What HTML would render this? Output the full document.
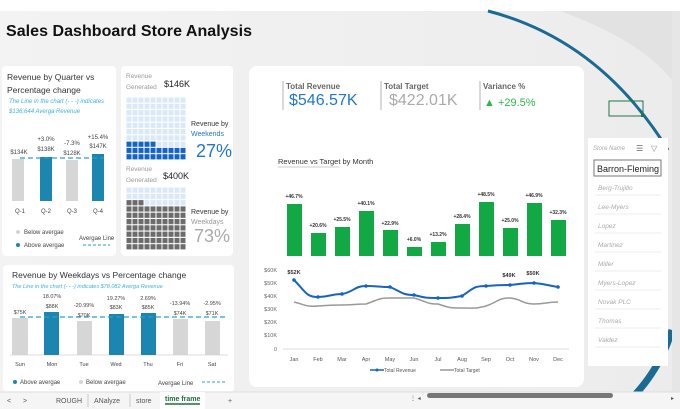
<!DOCTYPE html>
<html><head><meta charset="utf-8"><style>
*{margin:0;padding:0;box-sizing:border-box}
body{width:680px;height:409px;overflow:hidden;font-family:"Liberation Sans",sans-serif;background:#fff;position:relative}
svg{position:absolute;left:0;top:0}
</style></head><body>
<svg width="680" height="409" viewBox="0 0 680 409" font-family="Liberation Sans, sans-serif">
<defs>
<linearGradient id="bg" x1="0" y1="0" x2="1" y2="0"><stop offset="0" stop-color="#f3f3f3"/><stop offset="1" stop-color="#ececec"/></linearGradient>
<pattern id="pb" width="6" height="6.3" patternUnits="userSpaceOnUse" x="126" y="97"><rect x="0.5" y="0.5" width="5" height="5.2" fill="#1565c0"/></pattern>
<pattern id="pd" width="6" height="6.3" patternUnits="userSpaceOnUse" x="126" y="187"><rect x="0.5" y="0.5" width="5" height="5.2" fill="#6b6b6b"/></pattern>
<pattern id="pl1" width="6" height="6.3" patternUnits="userSpaceOnUse" x="126" y="97"><rect x="0.5" y="0.5" width="5" height="5.2" fill="#dbe8f7"/></pattern>
<pattern id="pl2" width="6" height="6.3" patternUnits="userSpaceOnUse" x="126" y="187"><rect x="0.5" y="0.5" width="5" height="5.2" fill="#dbe8f7"/></pattern>
</defs>
<rect x="0" y="11" width="672" height="381" fill="url(#bg)"/>
<path d="M560 11 Q640 40 672 80 L672 11Z" fill="#e2e2e2"/>
<path d="M488 11 Q600 40 668 150" stroke="#1a6a93" stroke-width="3" fill="none"/>
<path d="M672 330 Q660 370 630 400" stroke="#1a6a93" stroke-width="7" fill="none"/>
<rect x="672" y="11" width="8" height="381" fill="#e6e6e6"/>
<text x="6" y="36" font-size="16" font-weight="bold" fill="#111" textLength="246">Sales Dashboard Store Analysis</text>

<!-- card1 -->
<rect x="2" y="66" width="114" height="190" rx="4" fill="#fff"/>
<text x="7" y="80" font-size="8.5" fill="#333">Revenue by Quarter vs</text>
<text x="7" y="93" font-size="8.5" fill="#333">Percentage change</text>
<text x="9" y="103" font-size="6" fill="#3fb0e0" font-style="italic">The Line in the chart (- - -) indicates</text>
<text x="9" y="113" font-size="6" fill="#3fb0e0" font-style="italic">$136,644 Averga Revenue</text>
<rect x="12" y="159" width="12" height="42" fill="#d6d6d6"/>
<rect x="40" y="157" width="12" height="44" fill="#1b87b0"/>
<rect x="66" y="160" width="12" height="41" fill="#d6d6d6"/>
<rect x="92" y="154" width="12" height="47" fill="#1b87b0"/>
<line x1="20" y1="158" x2="104" y2="158" stroke="#2a9fd0" stroke-width="1.3" stroke-dasharray="5,3"/>
<g font-size="6" fill="#444" text-anchor="middle">
<text x="19" y="154">$134K</text>
<text x="46" y="141">+3.0%</text><text x="46" y="151">$138K</text>
<text x="72" y="145">-7.3%</text><text x="72" y="155">$128K</text>
<text x="98" y="139">+15.4%</text><text x="98" y="148">$147K</text>
<text x="20" y="213">Q-1</text><text x="46" y="213">Q-2</text><text x="72" y="213">Q-3</text><text x="98" y="213">Q-4</text>
</g>
<circle cx="18" cy="232" r="2" fill="#d6d6d6"/><text x="24" y="234" font-size="6" fill="#444">Below avergae</text>
<circle cx="18" cy="245" r="2" fill="#1b87b0"/><text x="24" y="247" font-size="6" fill="#444">Above avergae</text>
<text x="79" y="240" font-size="6" fill="#444">Avergae Line</text>
<line x1="83" y1="245" x2="110" y2="245" stroke="#2a9fd0" stroke-dasharray="3,2"/>

<!-- card2 -->
<rect x="121" y="66" width="112" height="190" rx="4" fill="#fff"/>
<text x="126" y="78" font-size="6.5" fill="#999">Revenue</text>
<text x="126" y="89" font-size="6.5" fill="#999">Generated</text>
<text x="164" y="87" font-size="9" fill="#222">$146K</text>
<rect x="126" y="97" width="60" height="44" fill="url(#pl1)"/>
<rect x="126" y="141" width="30" height="7" fill="url(#pb)"/>
<rect x="156" y="141" width="30" height="7" fill="url(#pl1)"/>
<rect x="126" y="147.4" width="60" height="13" fill="url(#pb)"/>
<text x="191" y="126" font-size="7" fill="#333">Revenue by</text>
<text x="191" y="136" font-size="7" fill="#1f77d0">Weekends</text>
<text x="196" y="157" font-size="18" fill="#1f77d0">27%</text>
<text x="126" y="171" font-size="6.5" fill="#999">Revenue</text>
<text x="126" y="182" font-size="6.5" fill="#999">Generated</text>
<text x="163" y="179" font-size="9" fill="#222">$400K</text>
<rect x="126" y="187" width="60" height="12.6" fill="url(#pl2)"/>
<rect x="126" y="199.6" width="18" height="6.3" fill="url(#pd)"/>
<rect x="144" y="199.6" width="42" height="6.3" fill="url(#pl2)"/>
<rect x="126" y="205.9" width="60" height="44.1" fill="url(#pd)"/>
<text x="191" y="214" font-size="7" fill="#333">Revenue by</text>
<text x="191" y="224" font-size="7" fill="#999">Weekdays</text>
<text x="194" y="242" font-size="18" fill="#aaa">73%</text>

<!-- card3 -->
<rect x="3" y="265" width="231" height="127" rx="4" fill="#fff"/>
<text x="12" y="278" font-size="8.5" fill="#333">Revenue by Weekdays vs Percentage change</text>
<text x="12" y="288" font-size="5.5" fill="#3fb0e0" font-style="italic">The Line in the chart (- - -) indicates $78,082 Averga Revenue</text>
<line x1="10" y1="355" x2="228" y2="355" stroke="#ddd"/>
<rect x="12" y="318" width="16" height="37" fill="#d6d6d6"/>
<rect x="44" y="312" width="15" height="43" fill="#1b87b0"/>
<rect x="77" y="321" width="15" height="34" fill="#d6d6d6"/>
<rect x="109" y="314" width="15" height="41" fill="#1b87b0"/>
<rect x="141" y="313" width="15" height="42" fill="#1b87b0"/>
<rect x="173" y="319" width="15" height="36" fill="#d6d6d6"/>
<rect x="205" y="321" width="15" height="34" fill="#d6d6d6"/>
<line x1="20" y1="317" x2="226" y2="317" stroke="#2a9fd0" stroke-width="1.3" stroke-dasharray="5,3"/>
<g font-size="5.5" fill="#444" text-anchor="middle">
<text x="20" y="314">$75K</text>
<text x="52" y="298">18.07%</text><text x="52" y="308">$88K</text>
<text x="84" y="307">-20.99%</text><text x="84" y="317">$70K</text>
<text x="116" y="300">19.27%</text><text x="116" y="309">$83K</text>
<text x="148" y="300">2.69%</text><text x="148" y="309">$85K</text>
<text x="180" y="305">-13.94%</text><text x="180" y="315">$74K</text>
<text x="212" y="305">-2.95%</text><text x="212" y="315">$71K</text>
<text x="20" y="366">Sun</text><text x="52" y="366">Mon</text><text x="84" y="366">Tue</text><text x="116" y="366">Wed</text><text x="148" y="366">Thu</text><text x="180" y="366">Fri</text><text x="212" y="366">Sat</text>
</g>
<circle cx="15" cy="382" r="2" fill="#1b87b0"/><text x="20" y="384" font-size="6" fill="#444">Above avergae</text>
<circle cx="81" cy="382" r="2" fill="#d6d6d6"/><text x="86" y="384" font-size="6" fill="#444">Below avergae</text>
<text x="158" y="385" font-size="6" fill="#444">Avergae Line</text>
<line x1="202" y1="382" x2="226" y2="382" stroke="#2a9fd0" stroke-dasharray="3,2"/>

<!-- big card -->
<rect x="249" y="66" width="335" height="321" rx="8" fill="#fff"/>
<line x1="283" y1="81" x2="283" y2="110" stroke="#ccc" stroke-width="1.5"/>
<line x1="381" y1="81" x2="381" y2="110" stroke="#ccc" stroke-width="1.5"/>
<line x1="480" y1="81" x2="480" y2="110" stroke="#ccc" stroke-width="1.5"/>
<text x="286" y="89" font-size="8" font-weight="bold" fill="#666">Total Revenue</text>
<text x="289" y="105" font-size="16" fill="#1f77d0">$546.57K</text>
<text x="384" y="89" font-size="8" font-weight="bold" fill="#666">Total Target</text>
<text x="389" y="105" font-size="16" fill="#aaa">$422.01K</text>
<text x="483" y="89" font-size="8" font-weight="bold" fill="#666">Variance %</text>
<text x="484" y="106" font-size="11" fill="#2fb64f">▲ +29.5%</text>
<text x="278" y="164" font-size="7.5" fill="#333">Revenue vs Target by Month</text>
<line x1="278" y1="167" x2="339" y2="167" stroke="#ccc"/>
<g fill="#12a945">
<rect x="287" y="204" width="15" height="52"/><rect x="311" y="233" width="15" height="23"/>
<rect x="335" y="227" width="15" height="29"/><rect x="359" y="211" width="15" height="45"/>
<rect x="383" y="230" width="15" height="26"/><rect x="407" y="247" width="15" height="9"/>
<rect x="431" y="242" width="15" height="14"/><rect x="455" y="224" width="15" height="32"/>
<rect x="479" y="202" width="15" height="54"/><rect x="503" y="228" width="15" height="28"/>
<rect x="527" y="203" width="15" height="53"/><rect x="551" y="220" width="15" height="36"/>
</g>
<g font-size="5" font-weight="bold" fill="#333" text-anchor="middle">
<text x="294" y="198">+46.7%</text><text x="318" y="227">+20.6%</text><text x="342" y="221">+25.5%</text>
<text x="366" y="205">+40.1%</text><text x="390" y="225">+22.9%</text><text x="414" y="241">+6.0%</text>
<text x="438" y="236">+13.2%</text><text x="462" y="218">+28.4%</text><text x="486" y="196">+48.5%</text>
<text x="510" y="222">+25.0%</text><text x="534" y="197">+46.9%</text><text x="558" y="214">+32.3%</text>
</g>
<g font-size="5.5" fill="#666" text-anchor="end">
<text x="277" y="272">$60K</text><text x="277" y="285">$50K</text><text x="277" y="298">$40K</text>
<text x="277" y="311">$30K</text><text x="277" y="324">$20K</text><text x="277" y="337">$10K</text><text x="277" y="351">0</text>
</g>
<line x1="283" y1="349" x2="569" y2="349" stroke="#ddd"/>
<path d="M294 302 C306 305,306 307,318 306 C330 305,330 305,342 305 C354 305,354 304,366 304 C378 300,378 298,390 298 C402 298,402 298,414 298 C426 301,426 304,438 304 C450 308,450 308,462 308 C474 308,474 309,486 306 C498 302,498 298,510 298 C522 299,522 304,534 304 C546 304,546 302,558 302" stroke="#999" stroke-width="1.5" fill="none"/>
<path d="M294 280 C306 292,306 297,318 297 C330 297,330 294,342 294 C354 292,354 286,366 286 C378 286,378 287,390 287 C402 292,402 295,414 295 C426 298,426 298,438 298 C450 298,450 298,462 296 C474 288,474 286,486 286 C498 285,498 285,510 285 C522 284,522 283,534 283 C546 284,546 285,558 287" stroke="#1565c0" stroke-width="2" fill="none"/>
<g fill="#1565c0"><circle cx="294" cy="280" r="1.8"/><circle cx="318" cy="297" r="1.8"/><circle cx="342" cy="294" r="1.8"/><circle cx="366" cy="286" r="1.8"/><circle cx="390" cy="287" r="1.8"/><circle cx="414" cy="295" r="1.8"/><circle cx="438" cy="298" r="1.8"/><circle cx="462" cy="296" r="1.8"/><circle cx="486" cy="286" r="1.8"/><circle cx="510" cy="285" r="1.8"/><circle cx="534" cy="283" r="1.8"/><circle cx="558" cy="287" r="1.8"/></g>
<g font-size="5.5" font-weight="bold" fill="#333" text-anchor="middle"><text x="294" y="274">$52K</text><text x="509" y="277">$49K</text><text x="533" y="275">$50K</text></g>
<g font-size="5.5" fill="#555" text-anchor="middle">
<text x="294" y="361">Jan</text><text x="318" y="361">Feb</text><text x="342" y="361">Mar</text><text x="366" y="361">Apr</text><text x="390" y="361">May</text><text x="414" y="361">Jun</text><text x="438" y="361">Jul</text><text x="462" y="361">Aug</text><text x="486" y="361">Sep</text><text x="510" y="361">Oct</text><text x="534" y="361">Nov</text><text x="558" y="361">Dec</text>
</g>
<line x1="370" y1="370" x2="384" y2="370" stroke="#1565c0" stroke-width="1.5"/><circle cx="377" cy="370" r="1.5" fill="#1565c0"/>
<text x="384" y="372" font-size="5" fill="#555">Total Revenue</text>
<line x1="440" y1="370" x2="454" y2="370" stroke="#999" stroke-width="1.5"/>
<text x="454" y="372" font-size="5" fill="#555">Total Target</text>

<rect x="609" y="101" width="34" height="15" fill="none" stroke="#217346" stroke-width="1"/>
<rect x="641" y="114" width="3" height="3" fill="#217346"/>

<!-- slicer -->
<rect x="588" y="138" width="80" height="228" fill="#fff"/>
<text x="593" y="150" font-size="6" fill="#aaa" font-style="italic">Store Name</text>
<text x="636" y="151" font-size="8" fill="#666">☰</text>
<text x="651" y="151" font-size="8" fill="#888">▽</text>
<rect x="594" y="160" width="67" height="16" fill="#fff" stroke="#777"/>
<text x="597" y="172" font-size="9" fill="#222">Barron-Fleming</text>
<g font-size="6.5" fill="#aaa" font-style="italic">
<text x="598" y="190">Berg-Trujillo</text><text x="598" y="209">Lee-Myers</text><text x="598" y="228">Lopez</text><text x="598" y="247">Martinez</text><text x="598" y="266">Miller</text><text x="598" y="285">Myers-Lopez</text><text x="598" y="304">Novak PLC</text><text x="598" y="323">Thomas</text><text x="598" y="342">Valdez</text>
</g>
<g stroke="#eee"><line x1="595" y1="195" x2="661" y2="195"/><line x1="595" y1="214" x2="661" y2="214"/><line x1="595" y1="233" x2="661" y2="233"/><line x1="595" y1="252" x2="661" y2="252"/><line x1="595" y1="271" x2="661" y2="271"/><line x1="595" y1="290" x2="661" y2="290"/><line x1="595" y1="309" x2="661" y2="309"/><line x1="595" y1="328" x2="661" y2="328"/><line x1="595" y1="347" x2="661" y2="347"/></g>

<!-- tabs -->
<rect x="0" y="392" width="680" height="17" fill="#f5f5f5"/>
<line x1="0" y1="392" x2="680" y2="392" stroke="#ddd"/>
<g font-size="7" fill="#555">
<text x="7" y="403">&lt;</text><text x="23" y="403">&gt;</text>
<text x="56" y="403">ROUGH</text><text x="94" y="403">ANalyze</text><text x="136" y="403">store</text>
<text x="228" y="403">+</text></g>
<line x1="88" y1="394" x2="88" y2="407" stroke="#ccc"/><line x1="130" y1="394" x2="130" y2="407" stroke="#ccc"/>
<rect x="160" y="392" width="45" height="17" fill="#fff"/>
<text x="165" y="401" font-size="7" font-weight="bold" fill="#1e6e3a">time frame</text>
<line x1="165" y1="404" x2="200" y2="404" stroke="#1e6e3a" stroke-width="1.5"/>
<text x="410" y="400" font-size="6" fill="#555">⋮ ◂</text>
<rect x="427" y="393" width="186" height="5" rx="2.5" fill="#777"/>
<text x="671" y="400" font-size="6" fill="#555">▸</text>
</svg>
</body></html>
